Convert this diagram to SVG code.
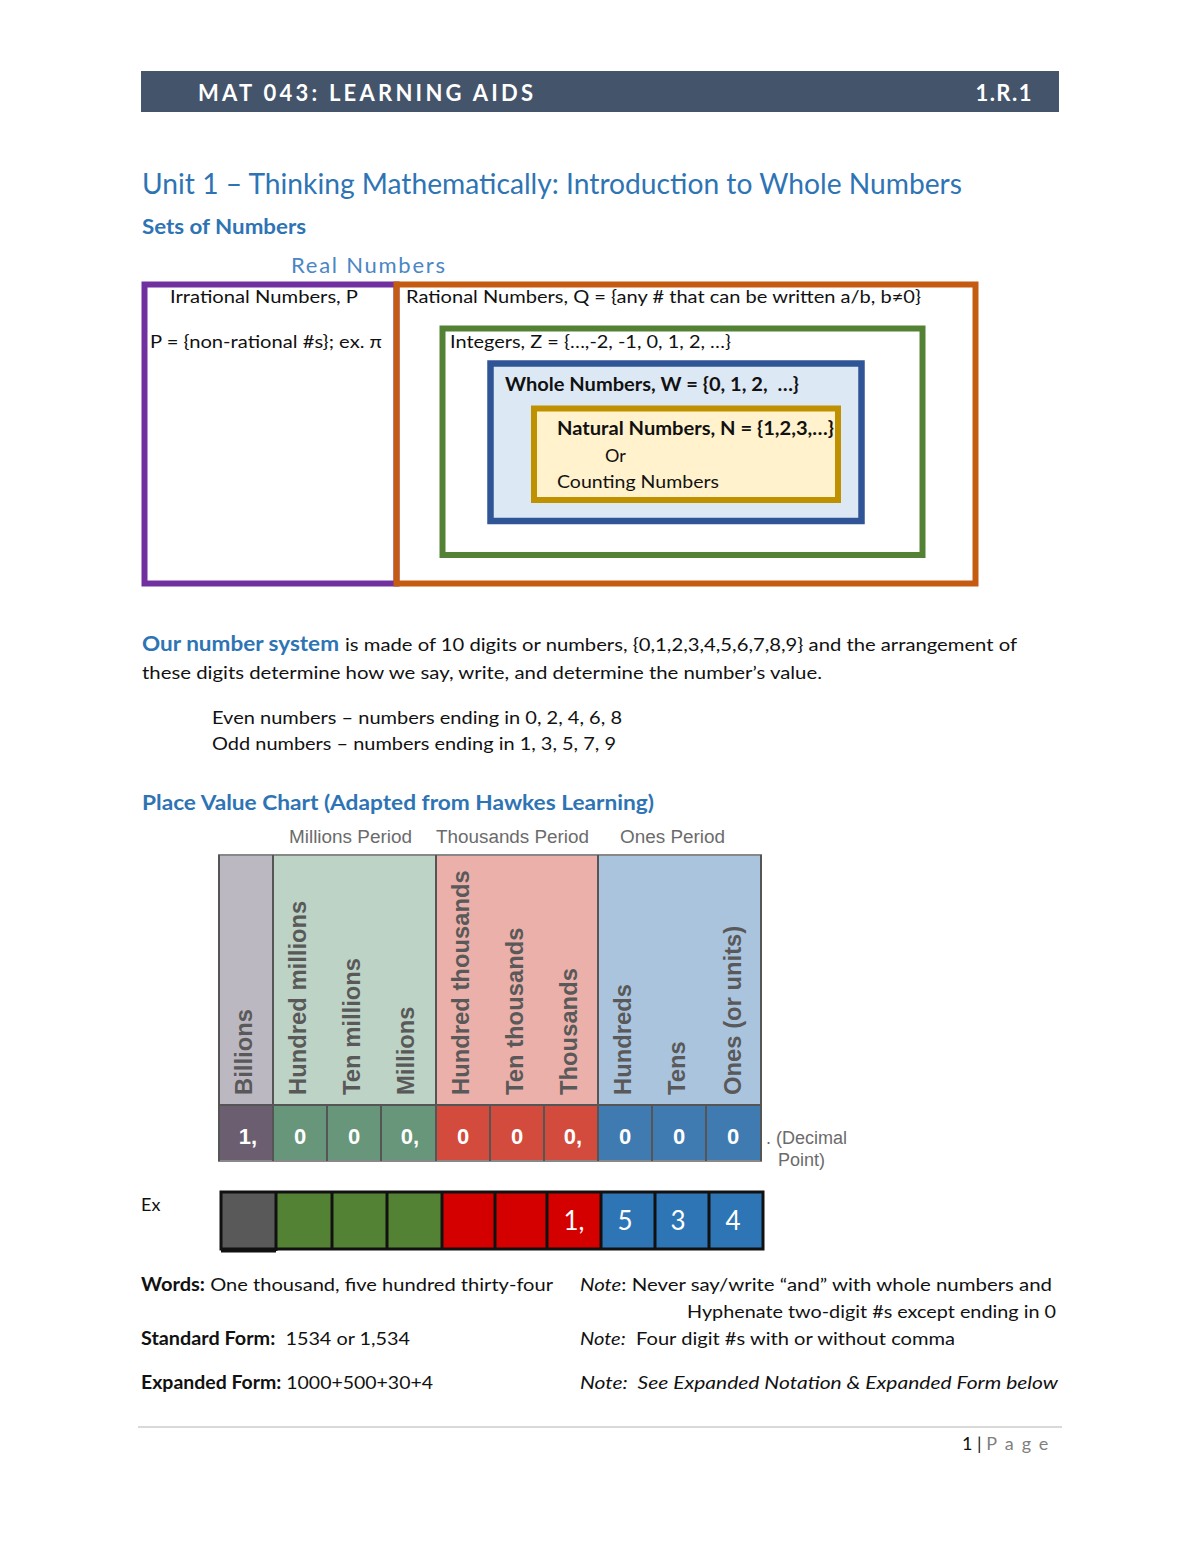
<svg xmlns="http://www.w3.org/2000/svg" width="1200" height="1553" viewBox="0 0 1200 1553">
<style>
.b{font-family:Lato,"Open Sans",sans-serif;font-size:18px;fill:#111}
.bd{font-weight:bold}
.it{font-style:italic}
.blue{fill:#2e74b5}
.rot{font-family:"Liberation Sans",Arial,sans-serif;font-weight:bold;font-size:23.8px;fill:#595959}
.val{font-family:"Liberation Sans",Arial,sans-serif;font-weight:bold;font-size:22px;fill:#fff;text-anchor:middle}
.per{font-family:"Liberation Sans",Arial,sans-serif;font-size:18px;fill:#6b6b6b}
.ex{font-family:Lato,"Open Sans",sans-serif;font-size:26px;fill:#fff;text-anchor:middle}
</style>
<rect width="1200" height="1553" fill="#fff"/>

<g id="header">
<rect x="141" y="71" width="918" height="41" fill="#44546a"/>
<text x="198" y="101" font-family="Lato,sans-serif" font-weight="bold" font-size="22" fill="#fff" textLength="335" lengthAdjust="spacing">MAT 043: LEARNING AIDS</text>
<text x="1033" y="101" font-family="Lato,sans-serif" font-weight="bold" font-size="22" fill="#fff" text-anchor="end" letter-spacing="1.5">1.R.1</text>
</g>

<g id="titles">
<text x="142" y="194" font-family="Lato,sans-serif" font-size="28" fill="#2e74b5" textLength="820" lengthAdjust="spacingAndGlyphs">Unit 1 – Thinking Mathematically: Introduction to Whole Numbers</text>
<text x="142" y="234" font-family="Lato,sans-serif" font-weight="bold" font-size="21" fill="#2e74b5" textLength="164" lengthAdjust="spacingAndGlyphs">Sets of Numbers</text>
<text x="291" y="273" font-family="Lato,sans-serif" font-size="22" fill="#4a86c5" textLength="154" lengthAdjust="spacing">Real Numbers</text>
</g>

<g id="irrational">
<rect x="144.5" y="284.5" width="252" height="299" fill="none" stroke="#7030a0" stroke-width="6"/>
<text class="b" x="170" y="303" textLength="188" lengthAdjust="spacingAndGlyphs">Irrational Numbers, P</text>
<text class="b" x="150" y="348" textLength="232" lengthAdjust="spacingAndGlyphs">P = {non-rational #s}; ex. π</text>
</g>
<g id="rational">
<rect x="396.5" y="284.5" width="579" height="299" fill="none" stroke="#c55a11" stroke-width="6"/>
<text class="b" x="406" y="303" textLength="515" lengthAdjust="spacingAndGlyphs">Rational Numbers, Q = {any # that can be written a/b, b≠0}</text>
</g>
<g id="integers">
<rect x="442.5" y="328.5" width="480" height="226.5" fill="none" stroke="#548235" stroke-width="6"/>
<text class="b" x="450" y="348" textLength="281" lengthAdjust="spacingAndGlyphs">Integers, Z = {…,-2, -1, 0, 1, 2, …}</text>
</g>
<g id="whole">
<rect x="490.5" y="363.5" width="371" height="157.5" fill="#dde8f5" stroke="#2f5597" stroke-width="6.5"/>
<text class="b bd" x="505" y="391" textLength="294" lengthAdjust="spacingAndGlyphs" xml:space="preserve">Whole Numbers, W = {0, 1, 2,  …}</text>
</g>
<g id="natural">
<rect x="534" y="408.5" width="304" height="91.5" fill="#fff2cc" stroke="#bf9000" stroke-width="6"/>
<text class="b bd" x="557" y="435" textLength="277" lengthAdjust="spacingAndGlyphs">Natural Numbers, N = {1,2,3,…}</text>
<text class="b" x="605" y="462">Or</text>
<text class="b" x="557" y="488" textLength="162" lengthAdjust="spacingAndGlyphs">Counting Numbers</text>
</g>

<g id="number-system">
<text class="b" y="651"><tspan x="142" class="bd blue" font-size="21" textLength="197" lengthAdjust="spacingAndGlyphs">Our number system</tspan><tspan x="345" textLength="672" lengthAdjust="spacingAndGlyphs">is made of 10 digits or numbers, {0,1,2,3,4,5,6,7,8,9} and the arrangement of</tspan></text>
<text class="b" x="142" y="679" textLength="680" lengthAdjust="spacingAndGlyphs">these digits determine how we say, write, and determine the number’s value.</text>
<text class="b" x="212" y="724" textLength="410" lengthAdjust="spacingAndGlyphs">Even numbers – numbers ending in 0, 2, 4, 6, 8</text>
<text class="b" x="212" y="750" textLength="404" lengthAdjust="spacingAndGlyphs">Odd numbers – numbers ending in 1, 3, 5, 7, 9</text>
</g>

<g id="chart-title">
<text x="142" y="810" font-family="Lato,sans-serif" font-weight="bold" font-size="21" fill="#2e74b5" textLength="512" lengthAdjust="spacingAndGlyphs">Place Value Chart (Adapted from Hawkes Learning)</text>
<text class="per" x="289" y="843" textLength="123" lengthAdjust="spacingAndGlyphs">Millions Period</text>
<text class="per" x="436" y="843" textLength="153" lengthAdjust="spacingAndGlyphs">Thousands Period</text>
<text class="per" x="620" y="843" textLength="105" lengthAdjust="spacingAndGlyphs">Ones Period</text>
</g>

<g id="place-value-chart">
<rect x="219" y="855" width="54" height="250" fill="#bcb8c1"/>
<rect x="273" y="855" width="163" height="250" fill="#bdd3c6"/>
<rect x="436" y="855" width="162" height="250" fill="#ebb0aa"/>
<rect x="598" y="855" width="163" height="250" fill="#abc4de"/>
<rect x="219" y="1105" width="54" height="56" fill="#6b5e70"/>
<rect x="273" y="1105" width="163" height="56" fill="#67967a"/>
<rect x="436" y="1105" width="162" height="56" fill="#d24b3d"/>
<rect x="598" y="1105" width="163" height="56" fill="#3f7ab1"/>
<g stroke="#555" stroke-width="2" fill="none">
<rect x="219" y="855" width="542" height="306" stroke="#888"/>
<line x1="219" y1="1105" x2="761" y2="1105"/>
<line x1="273" y1="855" x2="273" y2="1161"/>
<line x1="436" y1="855" x2="436" y2="1161"/>
<line x1="598" y1="855" x2="598" y2="1161"/>
<line x1="219" y1="855" x2="219" y2="1161"/>
<line x1="761" y1="855" x2="761" y2="1161"/>
<line x1="327" y1="1105" x2="327" y2="1161"/>
<line x1="381" y1="1105" x2="381" y2="1161"/>
<line x1="490" y1="1105" x2="490" y2="1161"/>
<line x1="544" y1="1105" x2="544" y2="1161"/>
<line x1="652" y1="1105" x2="652" y2="1161"/>
<line x1="706" y1="1105" x2="706" y2="1161"/>
</g>
<text class="rot" transform="translate(252,1095) rotate(-90)">Billions</text>
<text class="rot" transform="translate(306,1095) rotate(-90)">Hundred millions</text>
<text class="rot" transform="translate(360,1095) rotate(-90)">Ten millions</text>
<text class="rot" transform="translate(414,1095) rotate(-90)">Millions</text>
<text class="rot" transform="translate(469,1095) rotate(-90)">Hundred thousands</text>
<text class="rot" transform="translate(523,1095) rotate(-90)">Ten thousands</text>
<text class="rot" transform="translate(577,1095) rotate(-90)">Thousands</text>
<text class="rot" transform="translate(631,1095) rotate(-90)">Hundreds</text>
<text class="rot" transform="translate(685,1095) rotate(-90)">Tens</text>
<text class="rot" transform="translate(741,1095) rotate(-90)">Ones (or units)</text>
<text class="val" x="248" y="1144">1,</text>
<text class="val" x="300" y="1144">0</text>
<text class="val" x="354" y="1144">0</text>
<text class="val" x="410" y="1144">0,</text>
<text class="val" x="463" y="1144">0</text>
<text class="val" x="517" y="1144">0</text>
<text class="val" x="573" y="1144">0,</text>
<text class="val" x="625" y="1144">0</text>
<text class="val" x="679" y="1144">0</text>
<text class="val" x="733" y="1144">0</text>
<text class="per" x="766" y="1144">. (Decimal</text>
<text class="per" x="778" y="1166">Point)</text>
</g>

<g id="example">
<text class="b" x="141" y="1211">Ex</text>
<rect x="221" y="1192" width="55" height="59" fill="#595959"/>
<rect x="276" y="1192" width="166" height="57" fill="#548235"/>
<rect x="442" y="1192" width="159" height="57" fill="#d40000"/>
<rect x="601" y="1192" width="162" height="57" fill="#2e75b6"/>
<g stroke="#111" stroke-width="3" fill="none">
<rect x="221" y="1192" width="542" height="57"/>
<line x1="221" y1="1251" x2="276" y2="1251"/>
<line x1="276" y1="1192" x2="276" y2="1251"/>
<line x1="332" y1="1192" x2="332" y2="1249"/>
<line x1="387" y1="1192" x2="387" y2="1249"/>
<line x1="442" y1="1192" x2="442" y2="1249"/>
<line x1="495" y1="1192" x2="495" y2="1249"/>
<line x1="547" y1="1192" x2="547" y2="1249"/>
<line x1="601" y1="1192" x2="601" y2="1249"/>
<line x1="655" y1="1192" x2="655" y2="1249"/>
<line x1="709" y1="1192" x2="709" y2="1249"/>
</g>
<text class="ex" x="574" y="1230">1,</text>
<text class="ex" x="625" y="1230">5</text>
<text class="ex" x="678" y="1230">3</text>
<text class="ex" x="733" y="1230">4</text>
</g>

<g id="forms">
<text class="b" x="141" y="1291" textLength="412" lengthAdjust="spacingAndGlyphs"><tspan class="bd">Words:</tspan> One thousand, five hundred thirty-four</text>
<text class="b" x="580" y="1291" textLength="472" lengthAdjust="spacingAndGlyphs"><tspan class="it">Note</tspan>: Never say/write “and” with whole numbers and</text>
<text class="b" x="1056" y="1318" text-anchor="end" textLength="369" lengthAdjust="spacingAndGlyphs">Hyphenate two-digit #s except ending in 0</text>
<text class="b" x="141" y="1345" textLength="269" lengthAdjust="spacingAndGlyphs" xml:space="preserve"><tspan class="bd">Standard Form:</tspan>  1534 or 1,534</text>
<text class="b" x="580" y="1345" textLength="375" lengthAdjust="spacingAndGlyphs" xml:space="preserve"><tspan class="it">Note:</tspan>  Four digit #s with or without comma</text>
<text class="b" x="141" y="1389" textLength="292" lengthAdjust="spacingAndGlyphs"><tspan class="bd">Expanded Form:</tspan> 1000+500+30+4</text>
<text class="b it" x="580" y="1389" textLength="478" lengthAdjust="spacingAndGlyphs" xml:space="preserve">Note:  See Expanded Notation &amp; Expanded Form below</text>
</g>

<g id="footer">
<line x1="138" y1="1427" x2="1062" y2="1427" stroke="#d9d9d9" stroke-width="2"/>
<text class="b" x="962" y="1450" xml:space="preserve">1 | <tspan fill="#7f7f7f" letter-spacing="8">Page</tspan></text>
</g>
</svg>
